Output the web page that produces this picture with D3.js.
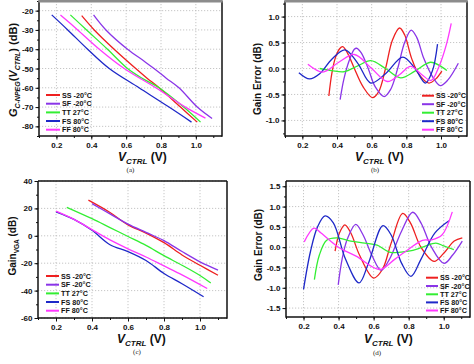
<!DOCTYPE html>
<html><head><meta charset="utf-8">
<script src="https://cdn.jsdelivr.net/npm/d3@7"></script>
<style>
body{margin:0;background:#fff;}
text{font-family:"Liberation Sans",Arial,sans-serif;}
</style></head>
<body><svg id="c" width="474" height="364"></svg>
<script>
// ---- Data ----
const seriesNames = ["SS -20°C","SF -20°C","TT 27°C","FS 80°C","FF 80°C"];
const seriesColors = ["#ee2020","#8a35e8","#33ee33","#1e28c8","#ff38ff"];
const xTicks = [0.2,0.4,0.6,0.8,1.0];

// (a) G_C-NPEG
const aSS = [[0.345,-22.6],[0.417,-30],[0.531,-40],[0.655,-50],[0.72,-55],[0.789,-60],[0.912,-70],[1.008,-77.8]];
const aSF = [[0.413,-22.2],[0.484,-30],[0.608,-40],[0.70,-46],[0.76,-50],[0.83,-55],[0.903,-60],[1.008,-70],[1.093,-75.9]];
const aTT = [[0.28,-22.2],[0.373,-30],[0.493,-40],[0.608,-50],[0.70,-55.5],[0.789,-60],[0.93,-70],[1.027,-77.8]];
const aFS = [[0.173,-22.2],[0.265,-30],[0.379,-40],[0.503,-50],[0.674,-60],[0.846,-70],[0.975,-77.8]];
const aFF = [[0.223,-22.2],[0.322,-30],[0.446,-40],[0.589,-50],[0.77,-60],[0.94,-70],[1.055,-75.7]];

// (b) Gain error
const bSS = [[0.353,-0.53],[0.37,-0.1],[0.39,0.2],[0.415,0.38],[0.433,0.42],[0.46,0.3],[0.5,0],[0.55,-0.35],[0.605,-0.56],[0.64,-0.45],[0.68,0],[0.72,0.55],[0.761,0.78],[0.79,0.65],[0.83,0.2],[0.87,-0.1],[0.93,-0.28],[0.97,-0.2],[1.005,-0.05]];
const bSF = [[0.418,-0.6],[0.44,-0.2],[0.47,0.15],[0.5,0.37],[0.513,0.39],[0.54,0.3],[0.58,0],[0.62,-0.35],[0.672,-0.54],[0.71,-0.4],[0.75,0],[0.79,0.5],[0.828,0.74],[0.86,0.6],[0.9,0.2],[0.95,-0.15],[0.996,-0.33],[1.04,-0.22],[1.1,0.1]];
const bTT = [[0.3,0],[0.37,-0.04],[0.443,-0.06],[0.52,0.05],[0.595,0.15],[0.68,0.0],[0.767,-0.18],[0.85,-0.05],[0.939,0.12],[1.0,0.04],[1.034,-0.04]];
const bFS = [[0.18,-0.08],[0.242,-0.2],[0.3,-0.1],[0.37,0.18],[0.446,0.36],[0.52,0.1],[0.595,-0.28],[0.68,-0.1],[0.78,0.22],[0.85,0.0],[0.91,-0.28],[0.95,-0.05],[0.98,0.47]];
const bFF = [[0.232,0.08],[0.318,-0.07],[0.41,0.12],[0.5,0.27],[0.6,0.0],[0.69,-0.25],[0.76,-0.12],[0.825,0.04],[0.89,-0.12],[0.943,-0.23],[0.99,0.05],[1.03,0.45],[1.059,0.87]];

// (c) Gain VGA
const cSS = [[0.38,26],[0.5,17],[0.6,8],[0.7,2],[0.8,-5],[0.9,-14],[1.0,-21.5],[1.1,-28.8]];
const cSF = [[0.4,23.5],[0.5,16],[0.6,8.5],[0.7,2.5],[0.8,-3.5],[0.9,-11.5],[1.0,-19],[1.1,-25]];
const cTT = [[0.26,20.8],[0.4,12.5],[0.5,6],[0.6,-0.5],[0.7,-7],[0.8,-14.5],[0.9,-21.5],[1.0,-29],[1.06,-34.5]];
const cFS = [[0.2,17.5],[0.3,12],[0.4,4],[0.5,-6.5],[0.6,-11.5],[0.7,-18],[0.8,-27.5],[0.9,-35],[1.02,-44.5]];
const cFF = [[0.2,18],[0.3,12],[0.4,4.5],[0.5,-3],[0.6,-9.5],[0.7,-15.5],[0.8,-22],[0.9,-28.5],[1.04,-38.5]];

// (d) Gain error
const dSS = [[0.38,-0.1],[0.405,0.35],[0.436,0.55],[0.47,0.35],[0.52,-0.2],[0.6,-0.76],[0.65,-0.55],[0.7,0.1],[0.766,0.83],[0.81,0.6],[0.87,0.0],[0.945,-0.35],[1.0,-0.15],[1.06,0.15],[1.106,0.23]];
const dSF = [[0.398,-0.93],[0.42,-0.3],[0.45,0.2],[0.498,0.56],[0.54,0.3],[0.59,-0.2],[0.643,-0.57],[0.69,-0.3],[0.76,0.4],[0.823,0.86],[0.87,0.6],[0.93,0.0],[1.002,-0.4],[1.05,-0.2],[1.106,0.15]];
const dTT = [[0.262,-0.8],[0.29,-0.2],[0.332,0.17],[0.389,0.23],[0.47,0.15],[0.55,0.1],[0.62,0.05],[0.69,-0.12],[0.8,-0.1],[0.88,0.0],[0.955,0.1],[1.0,0.03],[1.058,-0.06]];
const dFS = [[0.2,-1.04],[0.24,-0.1],[0.28,0.5],[0.323,0.77],[0.37,0.6],[0.44,-0.3],[0.517,-0.88],[0.57,-0.4],[0.653,0.53],[0.7,0.3],[0.76,-0.4],[0.813,-0.72],[0.87,-0.3],[0.95,0.35],[1.03,0.65]];
const dFF = [[0.204,0.13],[0.26,0.47],[0.3,0.35],[0.4,0.0],[0.5,-0.22],[0.634,-0.55],[0.72,-0.3],[0.8,-0.05],[0.879,0.17],[0.93,0.18],[0.99,0.3],[1.049,0.87]];

const svg = d3.select("#c");

const panels = [
  {L:39,R:222,T:1,B:136,yd:[-85,-15],yt:d3.range(-80,-19,10),ym:d3.range(-85,-14,5),fmt:d3.format("d"),
   data:[aSS,aSF,aTT,aFS,aFF],leg:{x1:46,x2:60,tx:62,ys:[95,103.7,112.4,121,129.7]},
   xt:{x:118,y:161},cap:{t:"(a)",x:130.5,y:172},yl:{x:17,y:70,kind:"a"}},
  {L:285,R:467,T:1,B:136,yd:[-1.3,1.3],yt:[-1,-0.5,0,0.5,1],ym:d3.range(-1.25,1.3,0.25),fmt:d3.format(".1f"),
   data:[bSS,bSF,bTT,bFS,bFF],leg:{x1:422,x2:434,tx:436,ys:[95.7,104.2,112.7,121.2,129.7]},
   xt:{x:355,y:161},cap:{t:"(b)",x:375,y:172},yl:{x:261,y:79,kind:"err"}},
  {L:38,R:227,T:181,B:318,yd:[-60,40],yt:d3.range(-60,41,20),ym:d3.range(-60,41,10),fmt:d3.format("d"),
   data:[cSS,cSF,cTT,cFS,cFF],leg:{x1:46,x2:59,tx:61,ys:[276,284.7,293.4,302,310.7]},
   xt:{x:117,y:343},cap:{t:"(c)",x:137,y:354},yl:{x:16,y:246,kind:"c"}},
  {L:286,R:470,T:181,B:317,yd:[-1.72,1.63],yt:[-1.5,-1,-0.5,0,0.5,1,1.5],ym:d3.range(-1.5,1.6,0.25),fmt:d3.format(".1f"),
   data:[dSS,dSF,dTT,dFS,dFF],leg:{x1:426,x2:438,tx:440,ys:[277.7,286,294.3,302.4,310.5]},
   xt:{x:364,y:343},cap:{t:"(d)",x:377,y:355},yl:{x:262,y:245,kind:"err"}}
];

panels.forEach(p=>{
  const x = d3.scaleLinear().domain([0.1,1.15]).range([p.L,p.R]);
  const y = d3.scaleLinear().domain(p.yd).range([p.B,p.T]);
  const g = svg.append("g");
  // grid
  g.selectAll(".gx").data(xTicks).join("line")
    .attr("x1",d=>x(d)).attr("x2",d=>x(d)).attr("y1",p.T).attr("y2",p.B)
    .attr("stroke","#b8b8b8").attr("stroke-width",0.8).attr("stroke-dasharray","1.2,1.8");
  g.selectAll(".gy").data(p.yt).join("line")
    .attr("x1",p.L).attr("x2",p.R).attr("y1",d=>y(d)).attr("y2",d=>y(d))
    .attr("stroke","#b8b8b8").attr("stroke-width",0.8).attr("stroke-dasharray","1.2,1.8");
  // axes
  const xa = g.append("g").attr("transform",`translate(0,${p.B})`)
    .call(d3.axisBottom(x).tickValues(xTicks).tickFormat(d3.format(".1f")).tickSize(3.5).tickPadding(3));
  const xm = g.append("g").attr("transform",`translate(0,${p.B})`)
    .call(d3.axisBottom(x).tickValues(d3.range(0.1,1.15,0.1)).tickFormat("").tickSize(2));
  const ya = g.append("g").attr("transform",`translate(${p.L},0)`)
    .call(d3.axisLeft(y).tickValues(p.yt).tickFormat(p.fmt).tickSize(3.5).tickPadding(2));
  const ym = g.append("g").attr("transform",`translate(${p.L},0)`)
    .call(d3.axisLeft(y).tickValues(p.ym).tickFormat("").tickSize(2));
  [xa,xm,ya,ym].forEach(a=>{a.select(".domain").remove(); a.selectAll("line").attr("stroke","#111").attr("stroke-width",1);});
  [xa,ya].forEach(a=>a.selectAll("text").attr("font-size",8).attr("font-weight","bold").attr("fill","#111")
      .style("font-family","'Liberation Sans',Arial,sans-serif"));
  ya.selectAll("text").text(d=>p.fmt(d).replace("−","-"));
  // curves
  const line = d3.line().x(d=>x(d[0])).y(d=>y(d[1])).curve(d3.curveCatmullRom.alpha(0.5));
  p.data.forEach((s,i)=>{
    g.append("path").attr("d",line(s)).attr("fill","none").attr("stroke",seriesColors[i]).attr("stroke-width",1.3);
  });
  // frame
  g.append("line").attr("x1",p.L).attr("x2",p.L).attr("y1",p.T).attr("y2",p.B+0.75).attr("stroke","#111").attr("stroke-width",1.5);
  g.append("line").attr("x1",p.R).attr("x2",p.R).attr("y1",p.T).attr("y2",p.B+0.75).attr("stroke","#111").attr("stroke-width",1.5);
  g.append("line").attr("x1",p.L).attr("x2",p.R).attr("y1",p.B).attr("y2",p.B).attr("stroke","#111").attr("stroke-width",1.5);
  if(p.T<5){
    g.append("rect").attr("x",p.L-0.75).attr("y",0).attr("width",p.R-p.L+1.5).attr("height",2.5).attr("fill","#8c8c8c");
  } else {
    g.append("line").attr("x1",p.L).attr("x2",p.R).attr("y1",p.T).attr("y2",p.T).attr("stroke","#111").attr("stroke-width",1.5);
  }
  // legend
  seriesNames.forEach((n,i)=>{
    g.append("line").attr("x1",p.leg.x1).attr("x2",p.leg.x2).attr("y1",p.leg.ys[i]).attr("y2",p.leg.ys[i])
      .attr("stroke",seriesColors[i]).attr("stroke-width",2);
    g.append("text").attr("x",p.leg.tx).attr("y",p.leg.ys[i]+2.6).attr("font-size",7.2).attr("font-weight","bold")
      .attr("fill","#111").text(n);
  });
  // x title
  const xt = g.append("text").attr("x",p.xt.x).attr("y",p.xt.y).attr("font-weight","bold").attr("fill","#111").attr("font-size",12);
  xt.append("tspan").attr("font-style","italic").text("V");
  xt.append("tspan").attr("font-style","italic").attr("font-size",8).attr("dy",3).text("CTRL");
  xt.append("tspan").attr("dy",-3).text(" (V)");
  // caption
  g.append("text").attr("x",p.cap.x).attr("y",p.cap.y).attr("text-anchor","middle")
    .attr("font-size",7).style("font-family","'Liberation Serif','Times New Roman',serif").attr("fill","#222").text(p.cap.t);
  // y title
  const yl = g.append("text").attr("transform",`translate(${p.yl.x},${p.yl.y}) rotate(-90)`)
    .attr("text-anchor","middle").attr("font-weight","bold").attr("fill","#111").attr("font-size",10);
  if(p.yl.kind==="err"){ yl.text("Gain Error (dB)"); }
  else if(p.yl.kind==="c"){
    yl.append("tspan").text("Gain");
    yl.append("tspan").attr("font-size",6.5).attr("dy",2.5).text("VGA");
    yl.append("tspan").attr("dy",-2.5).text(" (dB)");
  } else {
    yl.attr("font-size",11);
    yl.append("tspan").attr("font-style","italic").text("G");
    yl.append("tspan").attr("font-style","italic").attr("font-size",7).attr("dy",2.5).text("C-NPEG");
    yl.append("tspan").attr("dy",-2.5).text("(");
    yl.append("tspan").attr("font-style","italic").text("V");
    yl.append("tspan").attr("font-style","italic").attr("font-size",7).attr("dy",2.5).text("CTRL");
    yl.append("tspan").attr("dy",-2.5).text(") (dB)");
  }
});
</script></body></html>
